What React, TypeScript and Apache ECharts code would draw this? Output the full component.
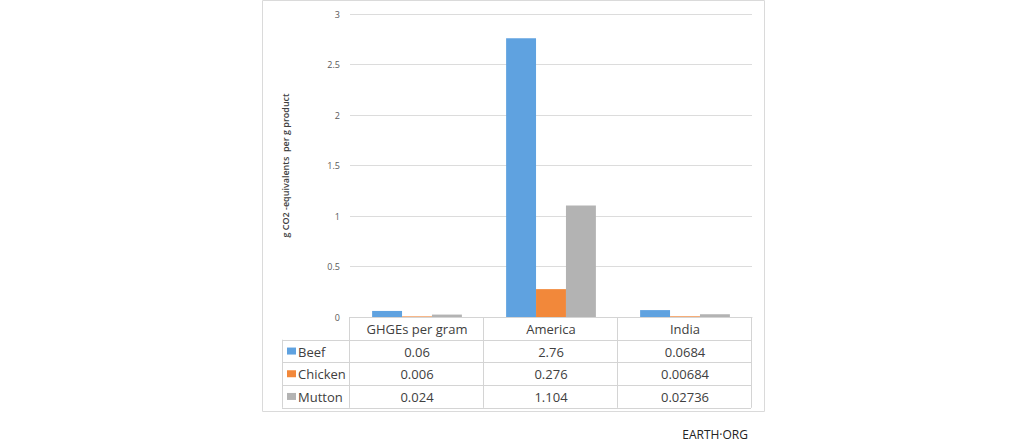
import React, { useEffect, useRef } from 'react';
import * as echarts from 'echarts';

const categories = ['GHGEs per gram', 'America', 'India'];
const seriesNames = ['Beef', 'Chicken', 'Mutton'];
const beefValues = [0.06, 2.76, 0.0684];
const chickenValues = [0.006, 0.276, 0.00684];
const muttonValues = [0.024, 1.104, 0.02736];
const seriesColors = ['#5fa2e0', '#f2883a', '#b3b3b3'];
const yAxisName = 'g CO2 -equivalents  per g product';
const brand = 'EARTH·ORG';

const FONT = '"Open Sans", "Liberation Sans", sans-serif';

export default function App() {
  const ref = useRef<HTMLDivElement>(null);
  useEffect(() => {
    const chart = echarts.init(ref.current!, null, { renderer: 'svg' });
    const gridLeft = 350, gridRight = 752, gridTop = 14, gridBottom = 317;
    const values = [beefValues, chickenValues, muttonValues];
    chart.setOption({
      animation: false,
      backgroundColor: '#ffffff',
      grid: { left: gridLeft, top: gridTop, width: gridRight - gridLeft, height: gridBottom - gridTop },
      xAxis: {
        type: 'category',
        data: categories,
        axisLine: { lineStyle: { color: '#d4d4d4' } },
        axisTick: { show: false },
        axisLabel: { show: false },
      },
      yAxis: {
        type: 'value',
        min: 0,
        max: 3,
        interval: 0.5,
        axisLabel: { color: '#595959', fontSize: 9, margin: 10, fontFamily: FONT },
        splitLine: { lineStyle: { color: '#dcdcdc' } },
        axisLine: { show: false },
        axisTick: { show: false },
        name: yAxisName,
        nameLocation: 'middle',
        nameGap: 60,
        nameRotate: 90,
        nameTextStyle: { color: '#404040', fontSize: 9, fontWeight: 600, fontFamily: FONT },
      },
      series: seriesNames.map((n, i) => ({
        name: n,
        type: 'bar',
        data: values[i],
        barGap: '0%',
        barCategoryGap: '33%',
        itemStyle: { color: seriesColors[i] },
      })),
    });

    // Data table under the plot, positioned from the axis scale
    const catW = (gridRight - gridLeft) / categories.length;
    const rowH = 22.7;
    const tableTop = gridBottom;
    const labelLeft = 282;
    const lineColor = '#d4d4d4';
    const textColor = '#404040';
    const fs = 13;
    const g: any[] = [];
    g.push({
      type: 'rect', shape: { x: 262.5, y: 0.5, width: 502, height: 411 },
      style: { fill: 'none', stroke: '#dadada', lineWidth: 1 }, silent: true,
    });
    const rows = seriesNames.length + 1;
    const tableBottom = tableTop + rowH * rows;
    for (let k = 1; k <= rows; k++) {
      const y = Math.round(tableTop + rowH * k) + 0.5;
      g.push({ type: 'line', shape: { x1: labelLeft, y1: y, x2: gridRight - 1, y2: y }, style: { stroke: lineColor, lineWidth: 1 } });
    }
    g.push({ type: 'line', shape: { x1: labelLeft + 0.5, y1: tableTop + rowH, x2: labelLeft + 0.5, y2: tableBottom }, style: { stroke: lineColor, lineWidth: 1 } });
    for (let c = 0; c <= categories.length; c++) {
      const x = Math.round(gridLeft + c * catW) - 0.5;
      g.push({ type: 'line', shape: { x1: x, y1: tableTop, x2: x, y2: tableBottom }, style: { stroke: lineColor, lineWidth: 1 } });
    }
    categories.forEach((cat, ci) => {
      const cx = chart.convertToPixel({ xAxisIndex: 0 }, cat) as number;
      g.push({
        type: 'text', x: cx, y: tableTop + rowH / 2 + 0.5,
        style: { text: cat, fill: textColor, fontSize: fs, fontFamily: FONT, align: 'center', verticalAlign: 'middle' },
      });
      values.forEach((vals, si) => {
        g.push({
          type: 'text', x: cx, y: tableTop + rowH * (si + 1.5) + 0.5,
          style: { text: String(vals[ci]), fill: textColor, fontSize: fs, fontFamily: FONT, align: 'center', verticalAlign: 'middle' },
        });
      });
    });
    seriesNames.forEach((n, si) => {
      const cy = tableTop + rowH * (si + 1.5);
      g.push({ type: 'rect', shape: { x: 287, y: cy - 3.5, width: 9, height: 7 }, style: { fill: seriesColors[si] } });
      g.push({
        type: 'text', x: 298, y: cy + 0.5,
        style: { text: n, fill: textColor, fontSize: fs, fontFamily: FONT, align: 'left', verticalAlign: 'middle' },
      });
    });
    g.push({
      type: 'text', x: 748, y: 434,
      style: { text: brand, fill: '#222222', fontSize: 12, fontFamily: FONT, align: 'right', verticalAlign: 'middle' },
    });
    chart.setOption({ graphic: g });

    return () => chart.dispose();
  }, []);
  return <div ref={ref} style={{ position: 'fixed', left: 0, top: 0, width: 1024, height: 448 }} />;
}
